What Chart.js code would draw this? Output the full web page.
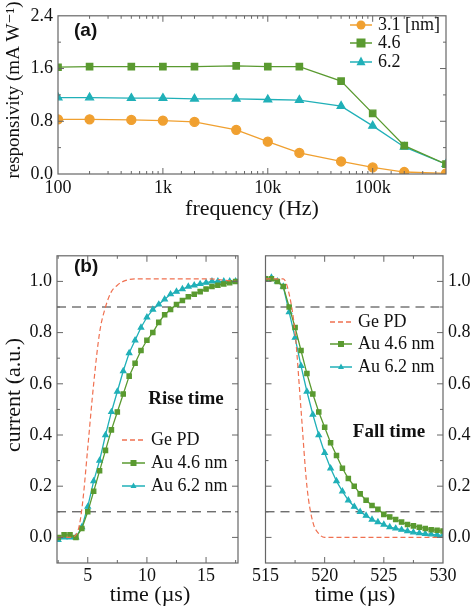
<!DOCTYPE html>
<html><head><meta charset="utf-8">
<script src="https://cdn.jsdelivr.net/npm/chart.js@4"></script>
<style>
body{margin:0;background:#fff;width:474px;height:607px;position:relative;overflow:hidden}
canvas{position:absolute}
</style></head><body>
<canvas id="c1" style="left:0;top:0;width:474px;height:232px"></canvas>
<canvas id="c2" style="left:0;top:240px;width:250px;height:367px"></canvas>
<canvas id="c3" style="left:250px;top:240px;width:224px;height:367px"></canvas>
<script>
const FONT='"Liberation Serif", "DejaVu Serif", serif';
const freq=[100,200,500,1000,2000,5000,10000,20000,50000,100000,200000,500000];
const resp31=[0.83,0.83,0.82,0.81,0.79,0.67,0.49,0.32,0.19,0.10,0.03,0.01];
const resp46=[1.62,1.63,1.63,1.63,1.63,1.64,1.63,1.63,1.41,0.92,0.43,0.15];
const resp62=[1.16,1.16,1.15,1.15,1.14,1.14,1.13,1.12,1.03,0.73,0.41,0.15];
const legendA=['3.1 [nm]','4.6','6.2'];
const legendB=['Ge PD','Au 4.6 nm','Au 6.2 nm'];
const thresh=[0.1,0.9];
const riseT=[2.5,3,3.5,4,4.5,5,5.5,6,6.5,7,7.5,8,8.5,9,9.5,10,10.5,11,11.5,12,12.5,13,13.5,14,14.5,15,15.5,16,16.5,17,17.5];
const rise46=[0.0,0.01,0.01,0.0,0.035,0.10,0.18,0.26,0.34,0.42,0.49,0.56,0.63,0.68,0.73,0.77,0.80,0.84,0.87,0.89,0.91,0.925,0.94,0.95,0.96,0.97,0.98,0.985,0.99,0.995,1.0];
const rise62=[-0.01,0.0,0.0,0.0,0.04,0.12,0.22,0.30,0.40,0.49,0.57,0.65,0.72,0.77,0.82,0.86,0.89,0.91,0.93,0.95,0.96,0.97,0.98,0.985,0.99,0.995,1.0,1.0,1.0,1.0,1.0];
const geRiseT=[2.5,3.5,4.0,4.3,4.6,5.0,5.5,6.0,6.5,7.0,7.5,8.0,9.0,10,12,15,17.5];
const geRise=[0,0,0.01,0.05,0.15,0.35,0.60,0.80,0.90,0.96,0.985,1.0,1.01,1.01,1.01,1.01,1.0];
const fallT=[515,515.5,516,516.5,517,517.5,518,518.5,519,519.5,520,520.5,521,521.5,522,522.5,523,523.5,524,524.5,525,525.5,526,526.5,527,527.5,528,528.5,529,529.5,530];
const fall46=[1.01,1.01,1.0,0.98,0.90,0.82,0.73,0.64,0.56,0.49,0.43,0.37,0.32,0.27,0.23,0.20,0.17,0.145,0.125,0.11,0.09,0.08,0.07,0.06,0.05,0.045,0.04,0.035,0.03,0.028,0.025];
const fall62=[1.01,1.015,1.0,0.98,0.88,0.78,0.67,0.57,0.48,0.40,0.33,0.27,0.22,0.18,0.145,0.12,0.10,0.085,0.07,0.06,0.05,0.04,0.035,0.03,0.025,0.02,0.017,0.014,0.012,0.01,0.008];
const geFallT=[515,516.5,517,517.5,518,518.5,519,519.5,520,522,525,530];
const geFall=[1.01,1.01,0.95,0.80,0.50,0.20,0.06,0.015,0.0,0.0,0.0,0.0];

const OR='#f0a030',GR='#5a9a30',TE='#20b0b8',GE='#f07050',FR='#666';

const deco={id:'deco',afterDraw(ch,a,o){
  const c=ch.ctx,ar=ch.chartArea;c.save();
  c.strokeStyle=FR;c.lineWidth=1.2;c.strokeRect(ar.left,ar.top,ar.right-ar.left,ar.bottom-ar.top);
  c.lineWidth=1;
  const x=ch.scales.x,y=ch.scales.y;
  x.ticks.forEach((t,i)=>{const p=x.getPixelForValue(t.value);if(p<ar.left+1||p>ar.right-1)return;
    const L=t.label?6:3;c.beginPath();c.moveTo(p,ar.bottom);c.lineTo(p,ar.bottom-L);c.moveTo(p,ar.top);c.lineTo(p,ar.top+L);c.stroke();});
  y.ticks.forEach(t=>{const p=y.getPixelForValue(t.value);if(p<ar.top+1||p>ar.bottom-1)return;
    const L=t.label?6:3;c.beginPath();c.moveTo(ar.left,p);c.lineTo(ar.left+L,p);c.moveTo(ar.right,p);c.lineTo(ar.right-L,p);c.stroke();});
  c.fillStyle='#111';c.textBaseline='middle';
  (o.texts||[]).forEach(t=>{c.font=t.f;c.textAlign=t.a||'left';
    if(t.r){c.save();c.translate(t.x,t.y);c.rotate(-Math.PI/2);c.fillText(t.s,0,0);c.restore();}else c.fillText(t.s,t.x,t.y);});
  (o.legend||[]).forEach(l=>{const ds=ch.data.datasets[l.i];c.strokeStyle=ds.borderColor;c.lineWidth=1.5;c.setLineDash(ds.borderDash||[]);
    c.beginPath();c.moveTo(l.x,l.y);c.lineTo(l.x+l.w,l.y);c.stroke();c.setLineDash([]);
    if(ds.pointRadius){c.fillStyle=ds.borderColor;const cx=l.x+l.w/2,r=ds.pointRadius;c.beginPath();
      if(ds.pointStyle==='circle')c.arc(cx,l.y,r,0,7);else if(ds.pointStyle==='rect')c.rect(cx-r,l.y-r,2*r,2*r);else{c.moveTo(cx,l.y-r*1.2);c.lineTo(cx+r,l.y+r*0.7);c.lineTo(cx-r,l.y+r*0.7);c.closePath();}c.fill();}
    c.fillStyle='#111';c.font=l.f;c.textAlign='left';c.fillText(l.s,l.x+l.w+6,l.y);});
  c.restore();}};
Chart.register(deco);
Chart.defaults.font.family=FONT;Chart.defaults.color='#111';
const tickFont={size:18,family:FONT};
const G={display:true,drawOnChartArea:false,drawTicks:false};
function lin(x,y){return x.map((v,i)=>({x:v,y:y[i]}));}
function hl(v,a,b){return {data:[{x:a,y:v},{x:b,y:v}],borderColor:'#333',borderWidth:1,borderDash:[9,6],pointRadius:0};}

new Chart(document.getElementById('c1'),{type:'line',
 data:{datasets:[
  {data:lin(freq,resp31),borderColor:OR,backgroundColor:OR,pointStyle:'circle',pointRadius:4.5,borderWidth:1.3},
  {data:lin(freq,resp46),borderColor:GR,backgroundColor:GR,pointStyle:'rect',pointRadius:4.5,borderWidth:1.3},
  {data:lin(freq,resp62),borderColor:TE,backgroundColor:TE,pointStyle:'triangle',pointRadius:4.5,borderWidth:1.3}]},
 options:{responsive:false,animation:false,layout:{padding:{top:8,right:28}},
  plugins:{legend:{display:false},tooltip:{enabled:false},
   deco:{texts:[{s:'(a)',x:74,y:31,f:'bold 19px "Liberation Sans", sans-serif'},
     {s:'frequency (Hz)',x:252,y:209,a:'center',f:'22px '+FONT},
     {s:'responsivity (mA W⁻¹)',x:14,y:90,a:'center',r:1,f:'19px '+FONT}],
    legend:[{i:0,x:350,y:25,w:22,s:legendA[0],f:'18px '+FONT},{i:1,x:350,y:43,w:22,s:legendA[1],f:'18px '+FONT},{i:2,x:350,y:62,w:22,s:legendA[2],f:'18px '+FONT}]}},
  scales:{x:{type:'logarithmic',min:100,max:500000,afterFit:s=>{s.height=58},grid:G,border:{display:false},
    ticks:{font:tickFont,autoSkip:false,maxRotation:0,padding:3,callback:v=>({100:'100',1000:'1k',10000:'10k',100000:'100k'})[v]||''}},
   y:{min:0,max:2.4,afterFit:s=>{s.width=58},grid:G,border:{display:false},
    ticks:{stepSize:0.4,font:tickFont,padding:5,callback:v=>(Math.round(v*10)%8===0)?v.toFixed(1):''}}}}});

function bottom(id,ge,geT,d46,d62,t,xmin,xmax,right,texts,legend){
 new Chart(document.getElementById(id),{type:'line',
  data:{datasets:[
   {data:lin(geT,ge),borderColor:GE,borderWidth:1.2,borderDash:[5,3],pointRadius:0,tension:0.4,cubicInterpolationMode:'monotone'},
   {data:lin(t,d46),borderColor:GR,backgroundColor:GR,pointStyle:'rect',pointRadius:3,borderWidth:1.3},
   {data:lin(t,d62),borderColor:TE,backgroundColor:TE,pointStyle:'triangle',pointRadius:3,borderWidth:1.3},
   hl(thresh[0],xmin,xmax),hl(thresh[1],xmin,xmax)]},
  options:{responsive:false,animation:false,layout:{padding:right?{top:5,left:13}:{top:5,right:12}},
   plugins:{legend:{display:false},tooltip:{enabled:false},deco:{texts,legend}},
   scales:{x:{type:'linear',min:xmin,max:xmax,afterFit:s=>{s.height=44},grid:G,border:{display:false},
     ticks:{stepSize:2.5,includeBounds:false,font:tickFont,padding:2,maxRotation:0,autoSkip:false,callback:v=>(Math.abs(v%5)<1e-6)?String(v):''}},
    y:{min:-0.1,max:1.1,position:right?'right':'left',afterFit:s=>{s.width=right?31:57},grid:G,border:{display:false},
     ticks:{stepSize:0.1,includeBounds:false,font:tickFont,padding:5,autoSkip:false,callback:v=>{const k=Math.round(v*10);return (k>=0&&k%2===0)?(k/10).toFixed(1):''}}}}}});
}
const lf='18px '+FONT;
bottom('c2',geRise,geRiseT,rise46,rise62,riseT,2.4,17.7,false,
 [{s:'(b)',x:74,y:27,f:'bold 19px "Liberation Sans", sans-serif'},{s:'Rise time',x:186,y:159,a:'center',f:'bold 19px '+FONT},
  {s:'time (µs)',x:150,y:355,a:'center',f:'22px '+FONT},{s:'current (a.u.)',x:14,y:155,a:'center',r:1,f:'22px '+FONT}],
 [{i:0,x:122,y:200,w:23,s:legendB[0],f:lf},{i:1,x:122,y:223,w:23,s:legendB[1],f:lf},{i:2,x:122,y:246,w:23,s:legendB[2],f:lf}]);
bottom('c3',geFall,geFallT,fall46,fall62,fallT,515,530,true,
 [{s:'Fall time',x:139,y:192,a:'center',f:'bold 19px '+FONT},{s:'time (µs)',x:105,y:355,a:'center',f:'22px '+FONT}],
 [{i:0,x:80,y:82,w:22,s:legendB[0],f:lf},{i:1,x:80,y:104,w:22,s:legendB[1],f:lf},{i:2,x:80,y:127,w:22,s:legendB[2],f:lf}]);
</script></body></html>
